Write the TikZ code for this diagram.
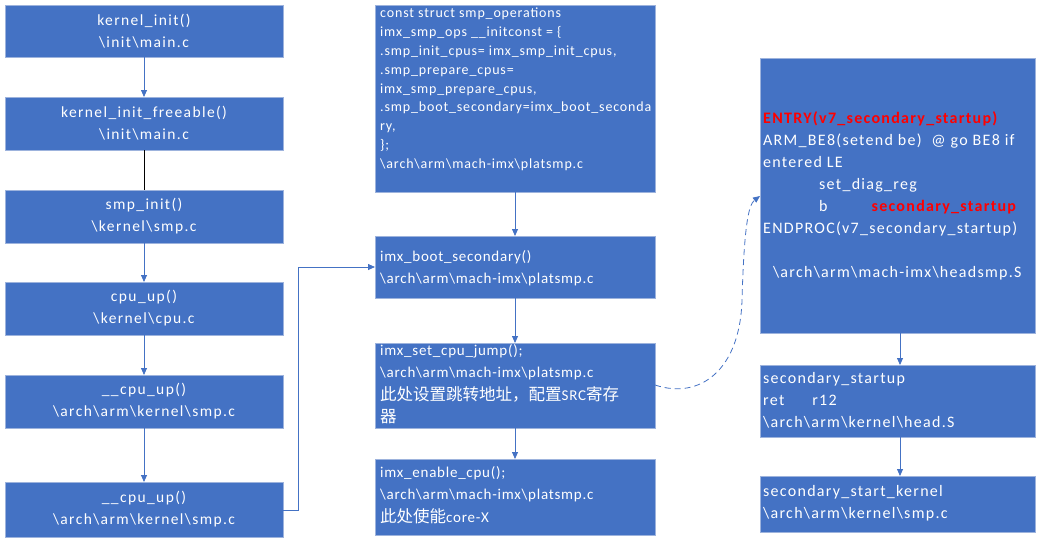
\documentclass[tikz,border=0pt]{standalone}
\usepackage{fontspec}
\setmainfont{Carlito}
\newfontfamily\cjk[Scale=1.1]{Noto Sans CJK SC}
\usetikzlibrary{arrows.meta}
\definecolor{bx}{HTML}{4472C4}
\definecolor{bd}{HTML}{9DB3DD}
\definecolor{rd}{HTML}{FF0000}
\newcommand{\fL}{\fontsize{15.5}{22}\selectfont\addfontfeatures{LetterSpace=9}}
\newcommand{\fA}{\fontsize{14}{18.8}\selectfont\addfontfeatures{LetterSpace=6}}
\newcommand{\fM}{\fontsize{15}{22.5}\selectfont\addfontfeatures{LetterSpace=5}}
\newcommand{\fR}{\fontsize{16}{22}\selectfont\addfontfeatures{LetterSpace=8}}
\newcommand{\zh}[1]{{\cjk\addfontfeatures{LetterSpace=0}#1}}
\begin{document}
\begin{tikzpicture}[x=1pt,y=-1pt,
 box/.style={fill=bx,draw=bd,line width=1pt},
 txt/.style={text=white,align=left,inner sep=0,anchor=north west},
 arr/.style={draw=bx,line width=0.8pt,-{Triangle[length=7pt,width=6pt]}}]
\useasboundingbox (0,0) rectangle (1040,541);
% left column
\foreach \n/\ya/\yb/\t in {l1/5/57/{kernel\_init()\\\textbackslash init\textbackslash main.c},
 l2/97/150/{kernel\_init\_freeable()\\\textbackslash init\textbackslash main.c},
 l3/190/243/{smp\_init()\\\textbackslash kernel\textbackslash smp.c},
 l4/282/335/{cpu\_up()\\\textbackslash kernel\textbackslash cpu.c},
 l5/375/428/{\_\_cpu\_up()\\\textbackslash arch\textbackslash arm\textbackslash kernel\textbackslash smp.c},
 l6/482/537/{\_\_cpu\_up()\\\textbackslash arch\textbackslash arm\textbackslash kernel\textbackslash smp.c}}{
 \path[box] (5,\ya) rectangle (283,\yb);
 \node[text=white,font=\fL,align=center,inner sep=0] (\n) at (144,{(\ya+\yb)/2}) {\t};
 \coordinate (\n t) at (144,\ya); \coordinate (\n b) at (144,\yb);}
\draw[arr] (l1b) -- (l2t);
\draw[black,line width=0.6pt] (l2b) -- (l3t);
\draw[arr] (l3b) -- (l4t);
\draw[arr] (l4b) -- (l5t);
\draw[arr] (l5b) -- (l6t);
% middle column
\path[box] (375,5) rectangle (655,192);
\node[txt,font=\fA] (mA) at (380,8) {const struct smp\_operations\\imx\_smp\_ops \_\_initconst = \{\\.smp\_init\_cpus= imx\_smp\_init\_cpus,\\.smp\_prepare\_cpus=\\imx\_smp\_prepare\_cpus,\\.smp\_boot\_secondary=imx\_boot\_seconda\\ry,\\\};\\\textbackslash arch\textbackslash arm\textbackslash mach-imx\textbackslash platsmp.c};
\coordinate (mAb) at (515,192);
\path[box] (375,236) rectangle (655,298);
\node[txt,font=\fM] (mB) at (380,250) {imx\_boot\_secondary()\\\textbackslash arch\textbackslash arm\textbackslash mach-imx\textbackslash platsmp.c};
\coordinate (mBt) at (515,236); \coordinate (mBb) at (515,298); \coordinate (mBl) at (375,267);
\path[box] (375,343) rectangle (655,428);
\node[txt,font=\fM] (mC) at (380,344) {imx\_set\_cpu\_jump();\\\textbackslash arch\textbackslash arm\textbackslash mach-imx\textbackslash platsmp.c\\\zh{此处设置跳转地址，配置}SRC\zh{寄存}\\\zh{器}};
\coordinate (mCt) at (515,343); \coordinate (mCb) at (515,428); \coordinate (mCr) at (655,385);
\path[box] (375,459) rectangle (655,535);
\node[txt,font=\fM] (mD) at (380,466) {imx\_enable\_cpu();\\\textbackslash arch\textbackslash arm\textbackslash mach-imx\textbackslash platsmp.c\\\zh{此处使能}core-X};
\coordinate (mDt) at (515,459);
\draw[arr] (mAb) -- (mBt);
\draw[arr] (mBb) -- (mCt);
\draw[arr] (mCb) -- (mDt);
\coordinate (l6r) at (283,510);
\draw[arr] (l6r) -- (298,510) -- (298,267) -- (mBl);
% right column
\path[box] (760,58) rectangle (1035,333);
\node[txt,font=\fR] (r1) at (763,111) {\textcolor{rd}{\textbf{ENTRY(v7\_secondary\_startup)}}\\ARM\_BE8(setend be)\ \ @ go BE8 if\\entered LE\\\hspace*{56pt}set\_diag\_reg\\\hspace*{56pt}b\hspace*{44pt}\textcolor{rd}{\textbf{secondary\_startup}}\\ENDPROC(v7\_secondary\_startup)\\\mbox{}\\\ \ \textbackslash arch\textbackslash arm\textbackslash mach-imx\textbackslash headsmp.S};
\coordinate (r1l) at (760,196); \coordinate (r1b) at (900,333);
\path[box] (760,365) rectangle (1035,437);
\node[txt,font=\fR] (r2) at (763,372) {secondary\_startup\\ret\hspace*{28pt}r12\\\textbackslash arch\textbackslash arm\textbackslash kernel\textbackslash head.S};
\coordinate (r2t) at (900,365); \coordinate (r2b) at (900,437);
\path[box] (760,476) rectangle (1035,532);
\node[txt,font=\fR] (r3) at (763,485) {secondary\_start\_kernel\\\textbackslash arch\textbackslash arm\textbackslash kernel\textbackslash smp.c};
\coordinate (r3t) at (900,476);
\draw[arr] (r1b) -- (r2t);
\draw[arr] (r2b) -- (r3t);
\draw[arr,dashed,dash pattern=on 6pt off 4pt] (mCr) .. controls (700,400) and (740,370) .. (742,300) .. controls (744,230) and (748,205) .. (r1l);
\end{tikzpicture}
\end{document}
